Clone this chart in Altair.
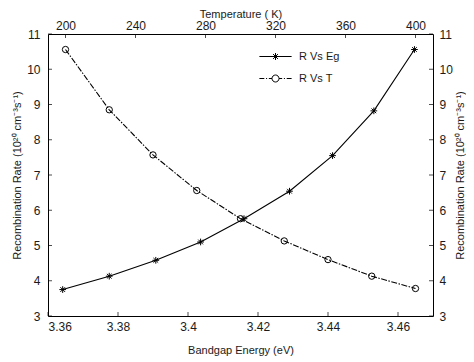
import altair as alt
import pandas as pd

# ---- data ----
T_VALUES = [200, 225, 250, 275, 300, 325, 350, 375, 400]
R_VS_T = [10.56, 8.85, 7.57, 6.56, 5.76, 5.13, 4.60, 4.13, 3.78]

EG_VALUES = [3.3642, 3.3775, 3.3908, 3.4036, 3.4160, 3.4290, 3.4413, 3.4531, 3.4647]
R_VS_EG = [3.75, 4.13, 4.58, 5.10, 5.76, 6.54, 7.55, 8.82, 10.56]

SERIES = ["R Vs Eg", "R Vs T"]
EG_TICKS = [3.36, 3.38, 3.40, 3.42, 3.44, 3.46]
T_TICKS = [200, 240, 280, 320, 360, 400]
R_TICKS = [3, 4, 5, 6, 7, 8, 9, 10, 11]

FONT = "Liberation Sans"
INK = "#1a1a1a"
Y_TITLE = "Recombination Rate (10²⁰ cm⁻³s⁻¹)"

ASTERISK = "M-1,0L1,0M0,-1L0,1M-0.7,-0.7L0.7,0.7M-0.7,0.7L0.7,-0.7"
LEG_EG = "M-4.6,0L4.6,0" + "M-1,0L1,0M0,-1L0,1M-0.7,-0.7L0.7,0.7M-0.7,0.7L0.7,-0.7"
LEG_T = ("M-4.6,0L-3.2,0M-2.7,0L-2.4,0M-1.9,0L-1,0"
         "M1,0L1.9,0M2.4,0L2.7,0M3.2,0L4.6,0"
         "M1,0A1,1 0 1,1 -1,0A1,1 0 1,1 1,0")

df_eg = pd.DataFrame({"Eg": EG_VALUES, "R": R_VS_EG})
df_t = pd.DataFrame({"T": T_VALUES, "R": R_VS_T})
df_eg_ticks = pd.DataFrame({"Eg": EG_TICKS})
df_t_ticks = pd.DataFrame({"T": T_TICKS})
df_r_ticks = pd.DataFrame({"R": R_TICKS})
df_series = pd.DataFrame({"series": SERIES})

r_scale = alt.Scale(domain=[3, 11], nice=False, zero=False)

# ---- Eg group: bottom + left axes ----
eg_axis = alt.Axis(orient="bottom", values=EG_TICKS, format="~g",
                   title="Bandgap Energy (eV)", ticks=False, labelOverlap=False,
                   labelPadding=5, titlePadding=12)
left_axis = alt.Axis(orient="left", values=R_TICKS, title=Y_TITLE,
                     ticks=False, labelOverlap=False, tickCount=9,
                     labelPadding=8, titlePadding=4)
eg_scale = alt.Scale(domain=[3.36, 3.47], nice=False, zero=False)

eg_base = alt.Chart(df_eg).encode(
    x=alt.X("Eg:Q", scale=eg_scale, axis=eg_axis),
    y=alt.Y("R:Q", scale=r_scale, axis=left_axis),
)
eg_line = eg_base.mark_line(color="black", strokeWidth=1.1)
eg_pts = eg_base.mark_point(shape=ASTERISK, size=45, color="black",
                            strokeWidth=1, filled=False, opacity=1)

eg_ticks = alt.Chart(df_eg_ticks).mark_tick(
    orient="vertical", size=4, thickness=1, color="black", yOffset=-2
).encode(x=alt.X("Eg:Q", scale=eg_scale, axis=eg_axis), y=alt.value("height"))
left_ticks = alt.Chart(df_r_ticks).mark_tick(
    orient="horizontal", size=4, thickness=1, color="black", xOffset=2
).encode(y=alt.Y("R:Q", scale=r_scale, axis=left_axis), x=alt.value(0))

legend_layer = alt.Chart(df_series).mark_point(opacity=0).encode(
    shape=alt.Shape(
        "series:N",
        scale=alt.Scale(domain=SERIES, range=[LEG_EG, LEG_T]),
        legend=alt.Legend(
            title=None, orient="none", legendX=222, legendY=17,
            symbolSize=49, symbolStrokeWidth=1, symbolStrokeColor="black",
            symbolFillColor="transparent", symbolOpacity=1,
            labelFont=FONT, labelFontSize=11, labelColor=INK,
            labelOffset=18, rowPadding=10, padding=0,
        ),
    )
)

eg_group = alt.layer(eg_line, eg_pts, eg_ticks, left_ticks, legend_layer)

# ---- T group: top + right axes ----
t_axis = alt.Axis(orient="top", values=T_TICKS, title="Temperature ( K)",
                  ticks=False, labelOverlap=False,
                  labelPadding=2, titlePadding=0)
right_axis = alt.Axis(orient="right", values=R_TICKS, title=Y_TITLE,
                      ticks=False, labelOverlap=False, tickCount=9,
                      labelPadding=6, titlePadding=2,
                      titleAngle=270, titleBaseline="top")
t_scale = alt.Scale(domain=[190, 410], nice=False, zero=False)

t_base = alt.Chart(df_t).encode(
    x=alt.X("T:Q", scale=t_scale, axis=t_axis),
    y=alt.Y("R:Q", scale=r_scale, axis=right_axis),
)
t_line = t_base.mark_line(color="black", strokeWidth=1.1, strokeDash=[6, 1.5, 1.5, 1.5])
t_pts = t_base.mark_point(shape="circle", size=40, color="black",
                          strokeWidth=1, filled=False, opacity=1)

t_ticks = alt.Chart(df_t_ticks).mark_tick(
    orient="vertical", size=4, thickness=1, color="black", yOffset=2
).encode(x=alt.X("T:Q", scale=t_scale, axis=t_axis), y=alt.value(0))
right_ticks = alt.Chart(df_r_ticks).mark_tick(
    orient="horizontal", size=4, thickness=1, color="black", xOffset=-2
).encode(y=alt.Y("R:Q", scale=r_scale, axis=right_axis), x=alt.value("width"))

t_group = alt.layer(t_line, t_pts, t_ticks, right_ticks)

chart = (
    alt.layer(eg_group, t_group)
    .resolve_scale(x="independent", y="independent")
    .properties(
        width=385, height=282,
        padding={"left": 40, "top": 26, "right": 33, "bottom": 42},
        autosize=alt.AutoSizeParams(type="none"),
    )
    .configure_view(stroke=None)
    .configure_axis(
        grid=False, domainColor="black", domainWidth=1, labelOverlap=False,
        labelFont=FONT, titleFont=FONT, labelFontSize=12, titleFontSize=11,
        titleFontWeight="normal", labelColor=INK, titleColor=INK,
    )
)

chart.save("out.html", embed_options={"renderer": "svg", "actions": False})
